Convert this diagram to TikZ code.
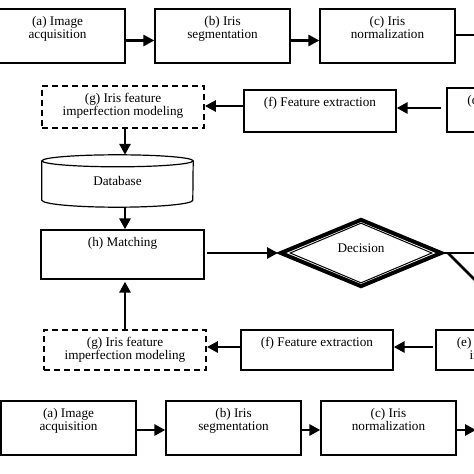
\documentclass[tikz,border=0pt]{standalone}
\usepackage{fontspec}
\setmainfont{Liberation Serif}
\usetikzlibrary{shapes.geometric,arrows.meta}
\newcommand\boxfont{\fontsize{13.2}{12.8}\selectfont}
\begin{document}
\begin{tikzpicture}[x=1pt,y=-1pt,
  box/.style={draw, line width=1.3pt, inner sep=0pt},
  dbox/.style={draw, line width=1.8pt, inner sep=0pt, dash pattern=on 6pt off 4pt},
  lbl/.style={anchor=north, inner sep=0pt, align=center, yshift=-8pt, font=\boxfont},
  arr/.style={line width=2.8pt, -{Triangle[length=11pt,width=11pt]}},
  ln/.style={line width=2.8pt}]
\useasboundingbox (0,0) rectangle (474,474);
\clip (0,0) rectangle (474,474);
% helper coordinates
\coordinate (vx) at (125,0);
\coordinate (y1) at (0,40.5);
\coordinate (y1b) at (0,35);
\coordinate (y2) at (0,106);
\coordinate (y2b) at (0,108);
\coordinate (y3) at (0,253);
\coordinate (y4) at (0,347);
\coordinate (y5) at (0,430);
\coordinate (out1) at (485,35);
\coordinate (out5) at (476,430);
\coordinate (outa) at (495,253);
\coordinate (outb) at (495,300);
% top row
\node[box, minimum width=135pt, minimum height=54pt, label={[lbl]north:(a) Image\\acquisition}] (a1) at (57.5,36) {};
\node[box, minimum width=135pt, minimum height=54pt, label={[lbl]north:(b) Iris\\segmentation}] (b1) at (222.5,36) {};
\node[box, minimum width=135pt, minimum height=54pt, label={[lbl]north:(c) Iris\\normalization}] (c1) at (387.5,36) {};
% second row
\node[dbox, minimum width=162pt, minimum height=42pt, label={[lbl]north:(g) Iris feature\\imperfection modeling}] (g1) at (123,107) {};
\node[box, minimum width=152pt, minimum height=42pt, label={[lbl]north:(f) Feature extraction}] (f1) at (320,111) {};
\node[box, minimum width=150pt, minimum height=44pt, label={[lbl]north:(d) Iris enhancement}] (d1) at (522,110) {};
% database
\node[minimum width=151pt, minimum height=52pt, inner sep=0pt, label={[font=\boxfont, inner sep=0pt]center:Database}] (db) at (117.5,181) {};
\draw[line width=1.2pt] ([yshift=-6pt]db.north) ellipse [x radius=75.5pt, y radius=6pt];
\draw[line width=1.2pt] ([yshift=-6pt]db.north west) -- ([yshift=7pt]db.south west)
  arc[start angle=180, end angle=360, x radius=75.5pt, y radius=7pt] -- ([yshift=-6pt]db.north east);
% matching
\node[box, minimum width=163pt, minimum height=49pt, label={[lbl]north:(h) Matching}] (h) at (122.5,254.5) {};
% decision
\node[diamond, draw, line width=4pt, minimum width=162pt, minimum height=68pt, inner sep=0pt] (dec) at (361,253) {};
\node[diamond, draw, line width=1pt, minimum width=142pt, minimum height=60pt, inner sep=0pt,
  label={[font=\boxfont, inner sep=0pt, yshift=5pt]center:Decision}] (decin) at (361,253) {};
% fourth row
\node[dbox, minimum width=162pt, minimum height=40pt, label={[lbl]north:(g) Iris feature\\imperfection modeling}] (g2) at (125,350) {};
\node[box, minimum width=152pt, minimum height=40pt, label={[lbl]north:(f) Feature extraction}] (f2) at (317,350) {};
\node[box, minimum width=150pt, minimum height=40pt, label={[lbl]north:(e) Iris enhancement\\in noisy images}] (e2) at (511,350) {};
% bottom row
\node[box, minimum width=135pt, minimum height=54pt, label={[lbl]north:(a) Image\\acquisition}] (a2) at (68.5,428) {};
\node[box, minimum width=135pt, minimum height=54pt, label={[lbl]north:(b) Iris\\segmentation}] (b2) at (233.5,428) {};
\node[box, minimum width=135pt, minimum height=54pt, label={[lbl]north:(c) Iris\\normalization}] (c2) at (388.5,428) {};
% connectors top
\draw[arr] (a1.east |- y1) -- (b1.west |- y1);
\draw[arr] (b1.east |- y1) -- (c1.west |- y1);
\draw[ln] (c1.east |- y1b) -- (out1);
\draw[arr] ([xshift=-5pt]d1.west |- y2b) -- (f1.east |- y2b);
\draw[arr] (f1.west |- y2) -- (g1.east |- y2);
\draw[arr] (g1.south -| vx) -- (db.north -| vx);
\draw[arr] (db.south -| vx) -- (h.north -| vx);
\draw[arr] ([xshift=2pt]h.east |- y3) -- (dec.west);
\draw[line width=2pt] (dec.east) -- (outa);
\draw[line width=2.5pt] ([xshift=4pt]dec.east) -- (outb);
% connectors bottom
\draw[arr] (g2.north -| vx) -- ([yshift=-2pt]h.south -| vx);
\draw[arr] ([xshift=-2pt]e2.west |- y4) -- (f2.east |- y4);
\draw[arr] (f2.west |- y4) -- (g2.east |- y4);
\draw[arr] (a2.east |- y5) -- (b2.west |- y5);
\draw[arr] (b2.east |- y5) -- (c2.west |- y5);
\draw[arr] (c2.east |- y5) -- (out5);
\end{tikzpicture}
\end{document}
